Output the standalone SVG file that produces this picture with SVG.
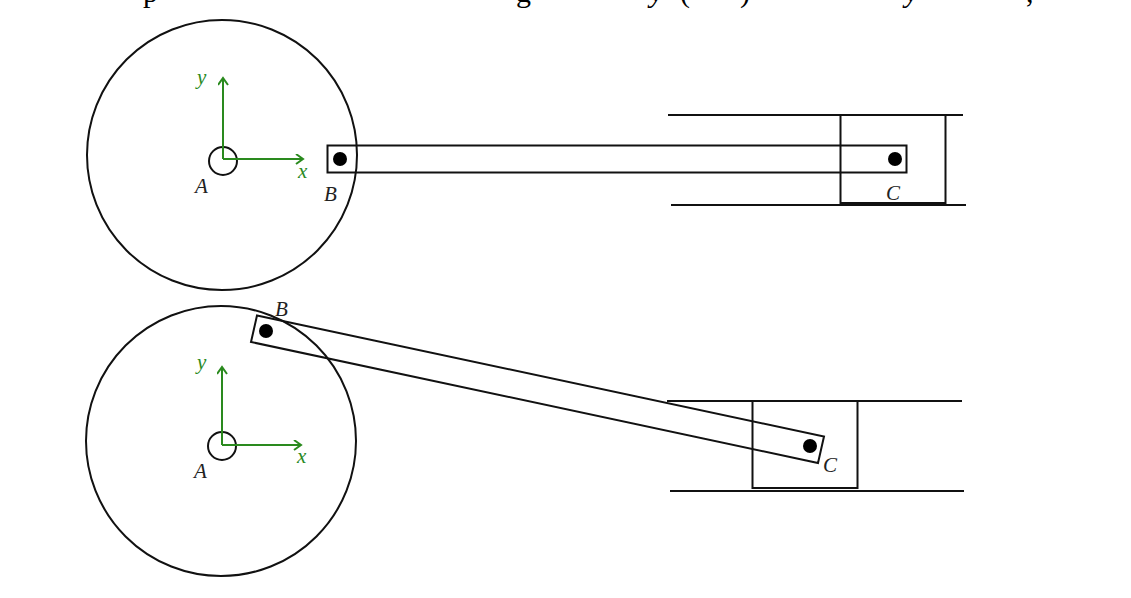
<svg xmlns="http://www.w3.org/2000/svg" width="1131" height="598" viewBox="0 0 1131 598">
<style>
.k{fill:none;stroke:#111;stroke-width:2}
.g{fill:none;stroke:#2a8a1e;stroke-width:2}
.d{fill:#000}
text{font-family:"Liberation Serif",serif;font-style:italic;font-size:21px}
.lk{fill:#222}
.lg{fill:#2a8a1e}
.top{font-style:normal;font-size:30px;fill:#000}
</style>
<defs>
<marker id="a" markerWidth="12" markerHeight="12" refX="9" refY="5" orient="auto" markerUnits="userSpaceOnUse"><path d="M2 0L9 5L2 10" fill="none" stroke="#2a8a1e" stroke-width="2"/></marker>
</defs>
<rect width="1131" height="598" fill="#fff"/>
<g id="caption">
<text class="top" x="143" y="2">p</text>
<text class="top" x="516" y="2">g</text>
<text class="top" x="650" y="2" style="font-style:italic">y</text>
<text class="top" x="680" y="2">(</text>
<text class="top" x="740" y="2">)</text>
<text class="top" x="905" y="2" style="font-style:italic">y</text>
<text class="top" x="1026" y="2">,</text>
</g>
<g id="disk-top"><circle class="k" cx="222" cy="155" r="135"/><circle class="k" cx="223" cy="161" r="14"/><text class="lk" x="195" y="193">A</text></g>
<g id="slider-top"><path class="k" d="M668 115H963M671 205H966"/><rect class="k" x="840.500" y="115" width="105" height="88"/><text class="lk" x="886" y="200">C</text></g>
<g id="rod-top"><rect class="k" x="327.500" y="145.500" width="579" height="27"/><circle class="d" cx="340" cy="159" r="7"/><circle class="d" cx="895" cy="159" r="7"/><text class="lk" x="324" y="201">B</text></g>
<g id="disk-bottom"><circle class="k" cx="221" cy="441" r="135"/><circle class="k" cx="222" cy="446" r="14"/><text class="lk" x="194" y="478">A</text></g>
<g id="slider-bottom"><path class="k" d="M667 401H962M670 491H964"/><rect class="k" x="752.500" y="401" width="105" height="87"/><text class="lk" x="823" y="472">C</text></g>
<g id="rod-bottom"><path class="k" d="M257 315.500L824 436.500L818 463L251 342Z"/><circle class="d" cx="266" cy="331" r="7"/><circle class="d" cx="810" cy="446" r="7"/><text class="lk" x="275" y="316">B</text></g>
<g id="connectors">
<path class="g" marker-end="url(#a)" d="M223 159V78"/>
<path class="g" marker-end="url(#a)" d="M223 159H303"/>
<path class="g" marker-end="url(#a)" d="M222 445V367"/>
<path class="g" marker-end="url(#a)" d="M222 445H301"/>
</g>
<g id="axis-labels">
<text class="lg" x="197" y="84">y</text><text class="lg" x="298" y="178">x</text>
<text class="lg" x="197" y="369">y</text><text class="lg" x="297" y="463">x</text>
</g>
</svg>
